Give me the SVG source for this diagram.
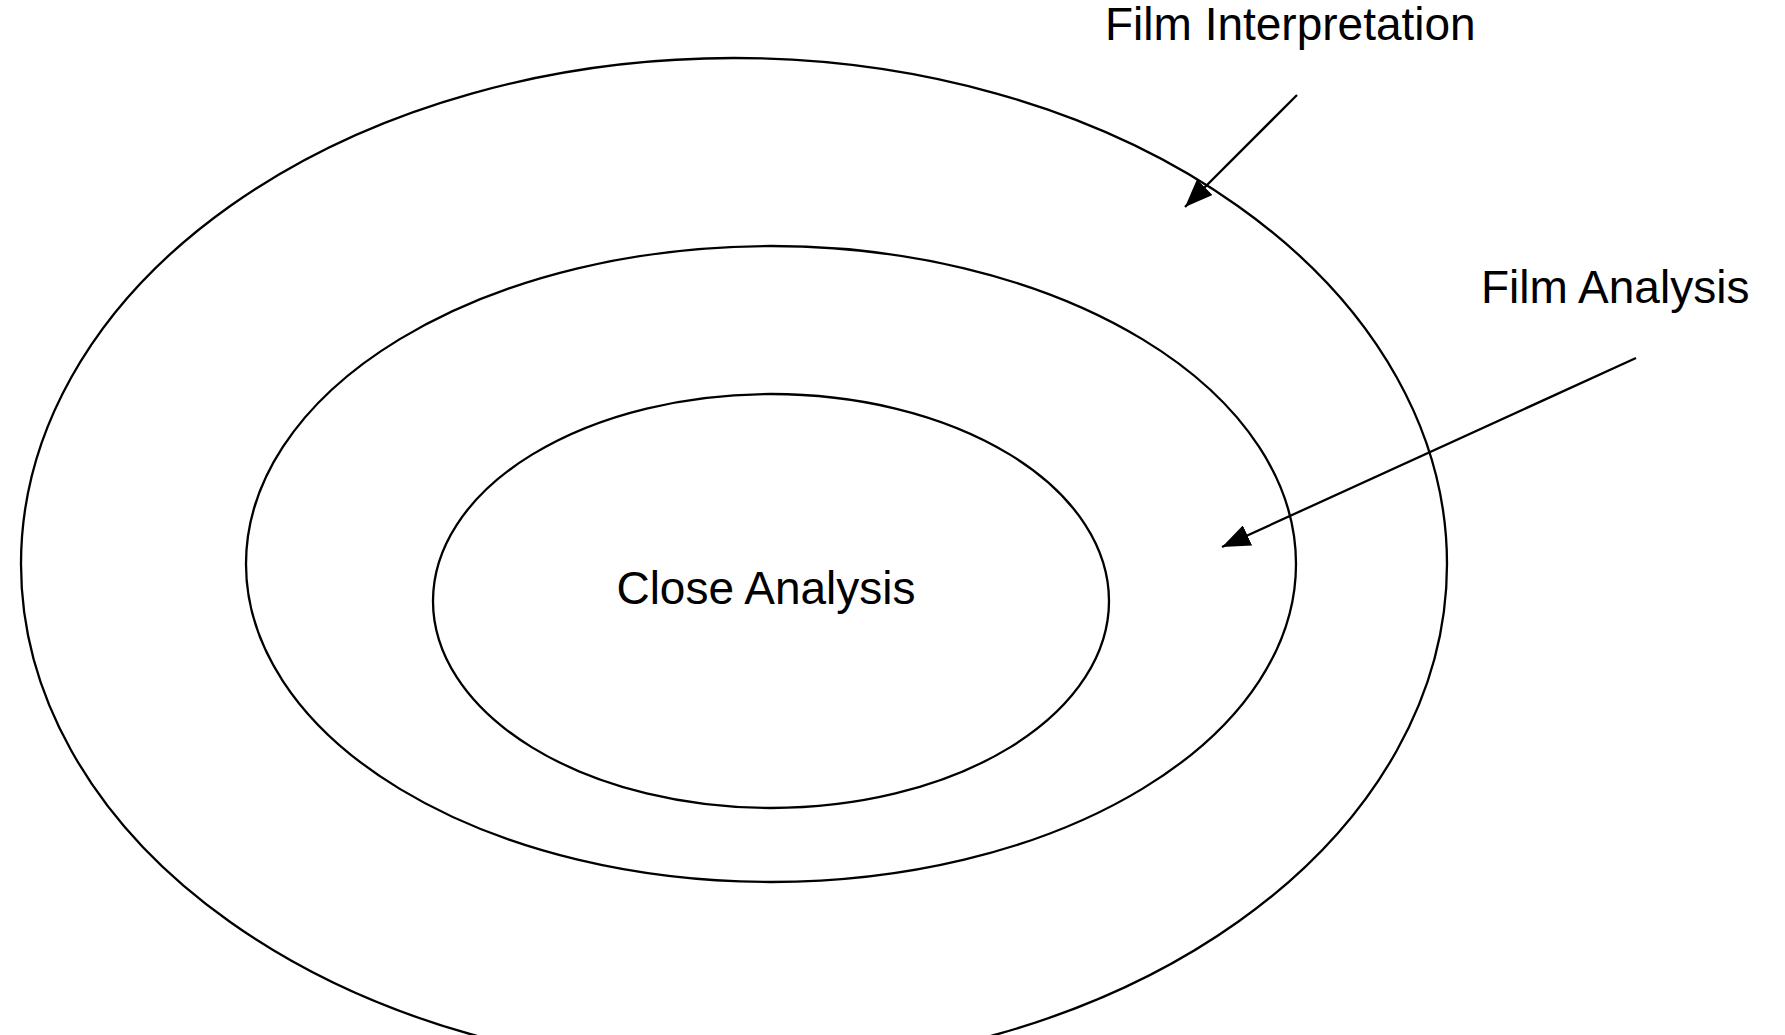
<svg xmlns="http://www.w3.org/2000/svg" width="1785" height="1035" viewBox="0 0 1785 1035">
<style>
.ring{fill:none;stroke:#000;stroke-width:2.3}
.lbl{font-family:"Liberation Sans",Arial,sans-serif;font-size:46px;fill:#000}
.conn{stroke:#000;stroke-width:2.3;fill:none}
</style>
<defs><marker id="ah2" viewBox="0 0 10 10" refX="10" refY="5" markerWidth="28" markerHeight="22" markerUnits="userSpaceOnUse" orient="auto" preserveAspectRatio="none"><path d="M0,0 L10,5 L0,10 z" fill="#000"/></marker></defs>
<rect width="1785" height="1035" fill="#fff"/>
<g id="film-interpretation"><ellipse class="ring" cx="734" cy="564" rx="713" ry="506"/><text class="lbl" x="1105" y="40">Film Interpretation</text></g>
<g id="film-analysis"><ellipse class="ring" cx="771" cy="564" rx="525" ry="318"/><text class="lbl" x="1481" y="303">Film Analysis</text></g>
<g id="close-analysis"><ellipse class="ring" cx="771" cy="601" rx="338" ry="207"/><text class="lbl" x="766" y="604" text-anchor="middle">Close Analysis</text></g>
<g id="connectors">
<line class="conn" x1="1297" y1="95" x2="1185" y2="207" marker-end="url(#ah2)"/>
<line class="conn" x1="1636" y1="358" x2="1222" y2="547" marker-end="url(#ah2)"/>
</g>
</svg>
